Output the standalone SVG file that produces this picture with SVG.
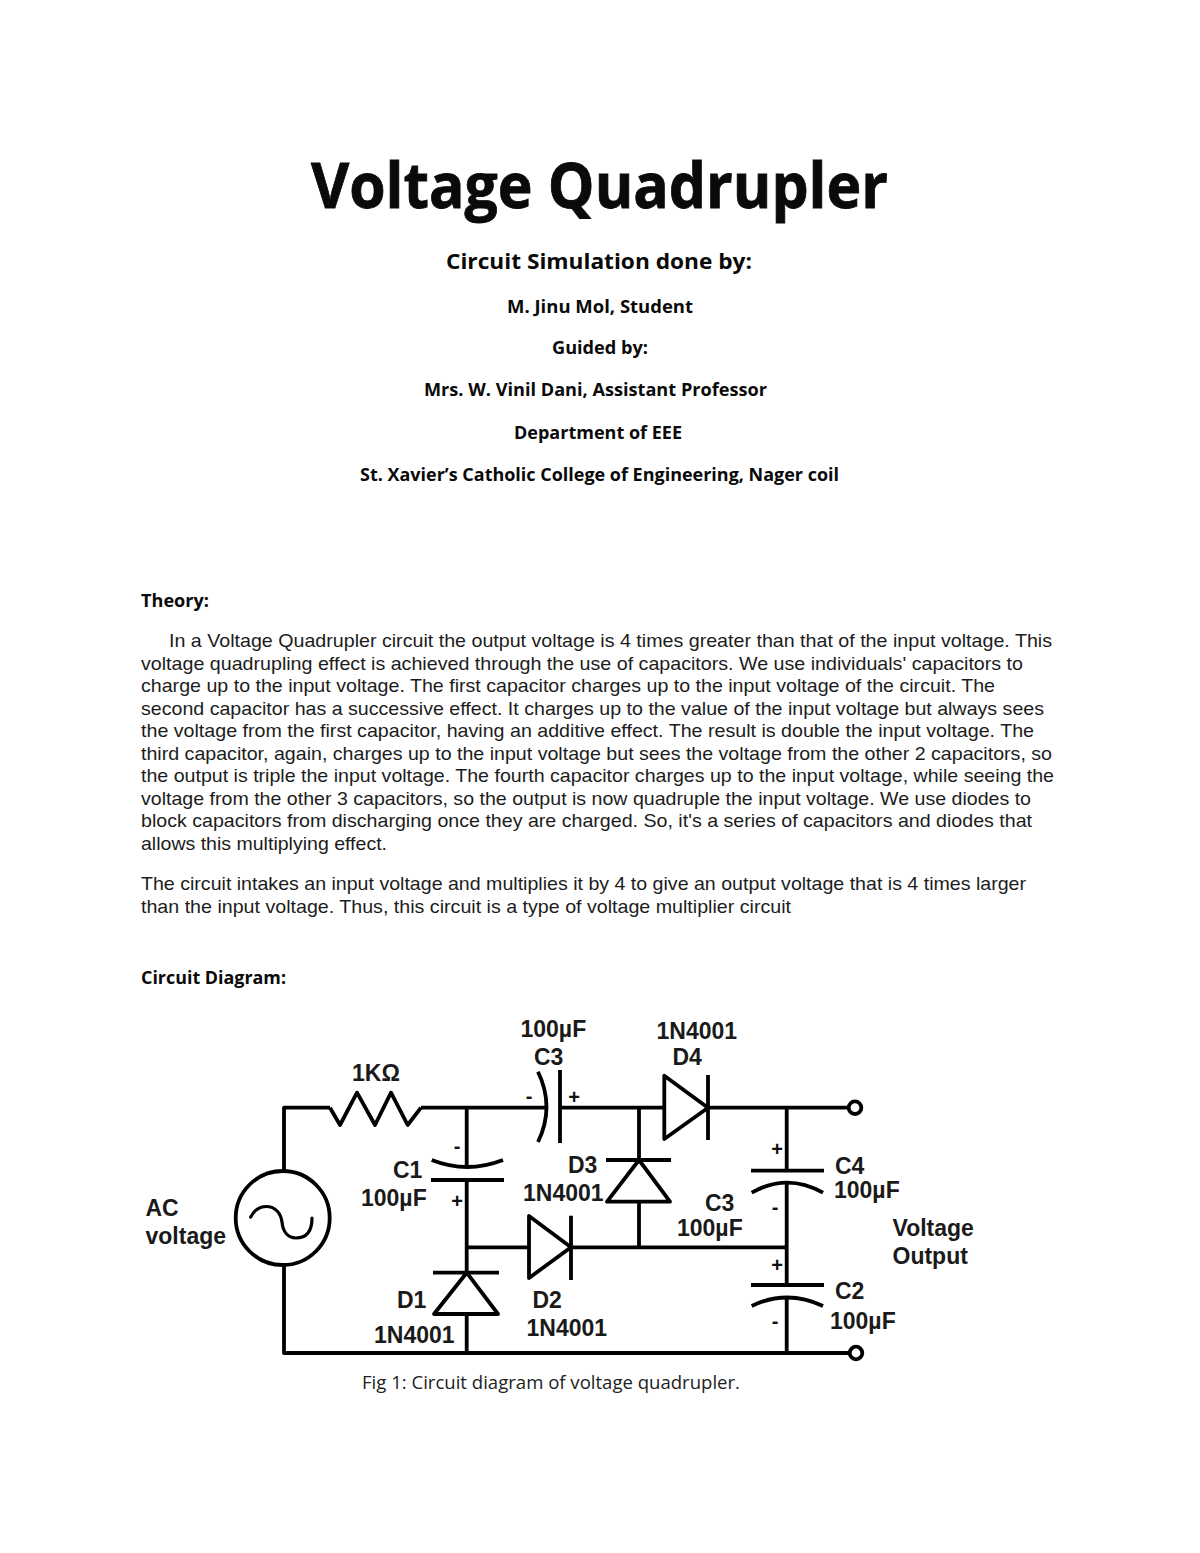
<svg xmlns="http://www.w3.org/2000/svg" width="1200" height="1553" viewBox="0 0 1200 1553">
<style>
.h{font-family:"Open Sans","Noto Sans","Liberation Sans",sans-serif;font-weight:700;fill:#0a0a0a;text-anchor:start}
.t{font-size:63px;stroke:#0a0a0a;stroke-width:.8px}.s{font-size:22px}.m{font-size:18.5px}
.c{font-family:"Open Sans","Noto Sans","Liberation Sans",sans-serif;font-size:18.5px;fill:#222}
.b{font-family:"Liberation Sans",Arial,sans-serif;font-size:18.6px;fill:#1c1c1c}
.l{font-family:"Liberation Sans",Arial,sans-serif;font-size:23px;font-weight:700;fill:#1a1a1a}
.p{font-family:"Liberation Sans",Arial,sans-serif;font-size:20px;font-weight:700;fill:#111;text-anchor:middle}
.w{fill:none;stroke:#000;stroke-width:3.8;stroke-linecap:butt;stroke-linejoin:round}
.thin{fill:none;stroke:#000;stroke-width:3.2;stroke-linecap:round}
</style>
<rect width="1200" height="1553" fill="#fff"/>
<g id="heading">
<text class="h t" x="311" y="208" textLength="577" lengthAdjust="spacingAndGlyphs">Voltage Quadrupler</text>
<text class="h s" x="446" y="269" textLength="306" lengthAdjust="spacingAndGlyphs">Circuit Simulation done by:</text>
<text class="h m" x="507" y="313" textLength="186" lengthAdjust="spacingAndGlyphs">M. Jinu Mol, Student</text>
<text class="h m" x="552" y="354" textLength="96" lengthAdjust="spacingAndGlyphs">Guided by:</text>
<text class="h m" x="424" y="396" textLength="343" lengthAdjust="spacingAndGlyphs">Mrs. W. Vinil Dani, Assistant Professor</text>
<text class="h m" x="514" y="439" textLength="168" lengthAdjust="spacingAndGlyphs">Department of EEE</text>
<text class="h m" x="360" y="481" textLength="479" lengthAdjust="spacingAndGlyphs">St. Xavier’s Catholic College of Engineering, Nager coil</text>
</g>
<g id="theory">
<text class="h m" x="141" y="607" textLength="68" lengthAdjust="spacingAndGlyphs">Theory:</text>
<text class="b" x="169" y="647" textLength="883" lengthAdjust="spacingAndGlyphs">In a Voltage Quadrupler circuit the output voltage is 4 times greater than that of the input voltage. This</text>
<text class="b" x="141" y="669.5" textLength="882" lengthAdjust="spacingAndGlyphs">voltage quadrupling effect is achieved through the use of capacitors. We use individuals' capacitors to</text>
<text class="b" x="141" y="692" textLength="854" lengthAdjust="spacingAndGlyphs">charge up to the input voltage. The first capacitor charges up to the input voltage of the circuit. The</text>
<text class="b" x="141" y="714.5" textLength="903" lengthAdjust="spacingAndGlyphs">second capacitor has a successive effect. It charges up to the value of the input voltage but always sees</text>
<text class="b" x="141" y="737" textLength="893" lengthAdjust="spacingAndGlyphs">the voltage from the first capacitor, having an additive effect. The result is double the input voltage. The</text>
<text class="b" x="141" y="759.5" textLength="911" lengthAdjust="spacingAndGlyphs">third capacitor, again, charges up to the input voltage but sees the voltage from the other 2 capacitors, so</text>
<text class="b" x="141" y="782" textLength="913" lengthAdjust="spacingAndGlyphs">the output is triple the input voltage. The fourth capacitor charges up to the input voltage, while seeing the</text>
<text class="b" x="141" y="804.5" textLength="890" lengthAdjust="spacingAndGlyphs">voltage from the other 3 capacitors, so the output is now quadruple the input voltage. We use diodes to</text>
<text class="b" x="141" y="827" textLength="891" lengthAdjust="spacingAndGlyphs">block capacitors from discharging once they are charged. So, it's a series of capacitors and diodes that</text>
<text class="b" x="141" y="849.5" textLength="246" lengthAdjust="spacingAndGlyphs">allows this multiplying effect.</text>
<text class="b" x="141" y="890" textLength="885" lengthAdjust="spacingAndGlyphs">The circuit intakes an input voltage and multiplies it by 4 to give an output voltage that is 4 times larger</text>
<text class="b" x="141" y="913" textLength="650" lengthAdjust="spacingAndGlyphs">than the input voltage. Thus, this circuit is a type of voltage multiplier circuit</text>
<text class="h m" x="141" y="984" textLength="145" lengthAdjust="spacingAndGlyphs">Circuit Diagram:</text>
</g>
<g id="connectors">
<path class="w" d="M284 1171V1107.7H330M421 1107.7H547M560 1107.7H664M708 1107.7H849M284 1265V1353H850M466.7 1107.7V1167M466.7 1180V1272.7M466.7 1314V1353M466.7 1247.3H529M571 1247.3H786.7M639 1107.7V1160M639 1201.7V1247.3M786.7 1107.7V1170.7M786.7 1183V1285M786.7 1298V1353"/>
</g>
<g id="source">
<circle class="w" cx="282.7" cy="1218" r="47"/>
<path class="thin" d="M250.7 1217C255 1209 260 1206.5 266 1206.5C276 1206.5 281 1214 282 1222C283 1232 288 1238 296 1238C306 1238 312 1232 312 1218"/>
<text class="l" x="145.5" y="1216">AC</text>
<text class="l" x="145.5" y="1244">voltage</text>
</g>
<g id="R1">
<path class="w" d="M330 1107.7L340 1125L357 1092.7L375 1125L391 1092.7L407.7 1125L421 1107.7"/>
<text class="l" x="352" y="1081">1KΩ</text>
</g>
<g id="C3a">
<path class="w" d="M538 1071.7Q555 1107 538 1142M560 1070V1143"/>
<text class="l" x="520.5" y="1037">100µF</text>
<text class="l" x="534" y="1065">C3</text>
<text class="p" x="529" y="1103">-</text>
<text class="p" x="574" y="1104">+</text>
</g>
<g id="C1">
<path class="w" d="M431.7 1160Q467 1174 503 1160M431 1180H504"/>
<text class="l" x="393" y="1178">C1</text>
<text class="l" x="361" y="1205.5">100µF</text>
<text class="p" x="457" y="1153">-</text>
<text class="p" x="457" y="1208">+</text>
</g>
<g id="D1">
<path class="w" d="M433 1272.7H499M466.7 1272.7L434 1314H498Z"/>
<text class="l" x="397" y="1307.5">D1</text>
<text class="l" x="374" y="1343">1N4001</text>
</g>
<g id="D2">
<path class="w" d="M529 1216V1278L571 1247.3ZM571 1215.7V1280"/>
<text class="l" x="532.5" y="1307.5">D2</text>
<text class="l" x="526.5" y="1336">1N4001</text>
</g>
<g id="D3">
<path class="w" d="M606 1160H671M639 1160L607 1201.7H670Z"/>
<text class="l" x="568" y="1172.5">D3</text>
<text class="l" x="523" y="1201">1N4001</text>
</g>
<g id="D4">
<path class="w" d="M664.3 1075.7V1139L708 1107.7ZM708 1075V1140"/>
<text class="l" x="656.5" y="1039">1N4001</text>
<text class="l" x="672.5" y="1065">D4</text>
</g>
<g id="C3b">
<text class="l" x="705" y="1210.5">C3</text>
<text class="l" x="677" y="1236">100µF</text>
</g>
<g id="C4">
<path class="w" d="M751 1170.7H824M751.7 1192.7Q787 1172.5 823 1192.7"/>
<text class="l" x="835" y="1174">C4</text>
<text class="l" x="834" y="1198">100µF</text>
<text class="p" x="777" y="1156">+</text>
<text class="p" x="775" y="1214">-</text>
</g>
<g id="C2">
<path class="w" d="M751 1285H824M751.7 1306Q787 1289 823 1306"/>
<text class="l" x="835" y="1299">C2</text>
<text class="l" x="830" y="1329">100µF</text>
<text class="p" x="777" y="1272">+</text>
<text class="p" x="775" y="1328">-</text>
</g>
<g id="output">
<circle cx="855" cy="1107.7" r="6.3" fill="#fff" stroke="#000" stroke-width="3.8"/>
<circle cx="856" cy="1353" r="6.3" fill="#fff" stroke="#000" stroke-width="3.8"/>
<text class="l" x="892.5" y="1236">Voltage</text>
<text class="l" x="892.5" y="1264">Output</text>
</g>
<text class="c" x="362" y="1389" textLength="378" lengthAdjust="spacingAndGlyphs">Fig 1: Circuit diagram of voltage quadrupler.</text>
</svg>
